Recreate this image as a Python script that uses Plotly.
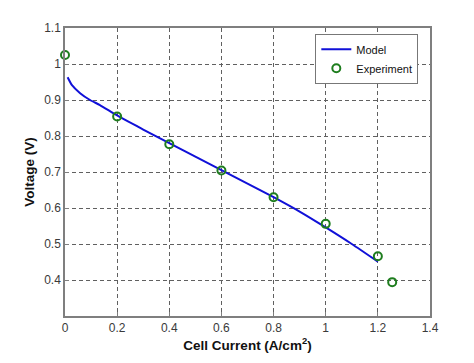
import plotly.graph_objects as go

# Model curve
model_current = [0.010, 0.026, 0.058, 0.096, 0.134, 0.2, 0.3, 0.4, 0.5, 0.6, 0.7, 0.8, 0.9, 1.0, 1.1, 1.2]
model_voltage = [0.963, 0.942, 0.919, 0.900, 0.886, 0.857, 0.818, 0.780, 0.743, 0.705, 0.668, 0.630, 0.590, 0.546, 0.500, 0.451]

# Experimental points
exp_current = [0.0, 0.2, 0.4, 0.6, 0.8, 1.0, 1.2, 1.255]
exp_voltage = [1.025, 0.854, 0.777, 0.704, 0.630, 0.556, 0.466, 0.394]

x_ticks = [0, 0.2, 0.4, 0.6, 0.8, 1.0, 1.2, 1.4]
x_tick_labels = ["0", "0.2", "0.4", "0.6", "0.8", "1", "1.2", "1.4"]
y_ticks = [0.4, 0.5, 0.6, 0.7, 0.8, 0.9, 1.0, 1.1]
y_tick_labels = ["0.4", "0.5", "0.6", "0.7", "0.8", "0.9", "1", "1.1"]

FONT = "Arial, Liberation Sans, sans-serif"

fig = go.Figure()
fig.add_trace(go.Scatter(x=model_current, y=model_voltage, mode="lines", name="Model",
                         line=dict(color="#1010d8", width=2, shape="spline", smoothing=0.6)))
fig.add_trace(go.Scatter(x=exp_current, y=exp_voltage, mode="markers", name="Experiment",
                         marker=dict(symbol="circle-open", size=8, color="#1e7d1e",
                                     line=dict(width=2, color="#1e7d1e")),
                         cliponaxis=False))

axis_common = dict(showline=True, mirror=True, linecolor="#7f7f7f", linewidth=1.5,
                   showgrid=True, gridcolor="#606060", griddash="4px,3px", gridwidth=1,
                   zeroline=False, ticks="inside", ticklen=4, tickcolor="#7f7f7f",
                   automargin=False,
                   tickfont=dict(family=FONT, size=12, color="#3a3a3a"))

fig.update_xaxes(range=[0, 1.4], tickvals=x_ticks, ticktext=x_tick_labels,
                 title=dict(text="<b>Cell Current (A/cm<sup>2</sup>)</b>",
                            font=dict(family=FONT, size=13.5, color="#111111"),
                            standoff=6),
                 **axis_common)
fig.update_yaxes(range=[0.3, 1.1], tickvals=y_ticks, ticktext=y_tick_labels,
                 title=dict(text="<b>Voltage (V)</b>",
                            font=dict(family=FONT, size=13.5, color="#111111"),
                            standoff=6),
                 **axis_common)

fig.update_layout(
    width=466, height=355,
    margin=dict(l=57, r=44, t=20, b=47),
    paper_bgcolor="white", plot_bgcolor="white",
    showlegend=True,
    legend=dict(x=0.968, y=0.98, xanchor="right", yanchor="top",
                bgcolor="white", bordercolor="#777777", borderwidth=1,
                font=dict(family=FONT, size=11, color="#111111"),
                tracegroupgap=0, itemwidth=30),
)

fig.write_html("out.html")
